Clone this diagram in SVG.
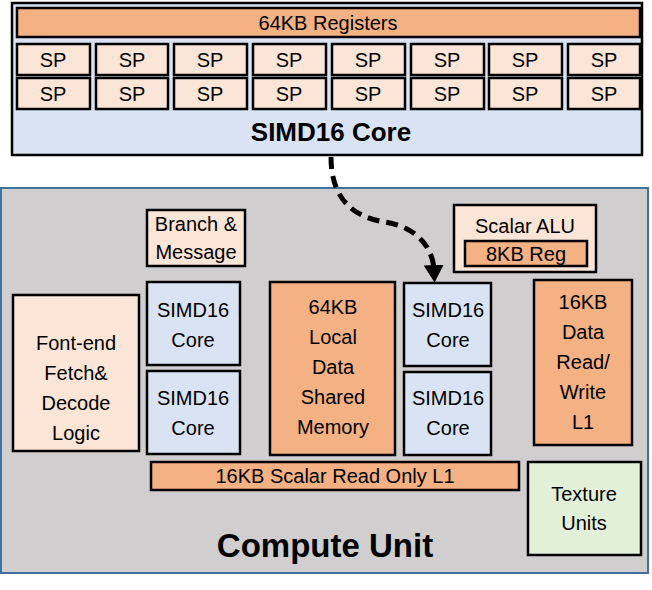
<svg xmlns="http://www.w3.org/2000/svg" width="652" height="590" viewBox="0 0 652 590">
<style>
text{font-family:"Liberation Sans","Noto Sans",sans-serif;font-size:20px;fill:#000;text-anchor:middle}
.b{stroke:#000;stroke-width:2.5}
.o{fill:#f4b183}.p{fill:#fbe5d6}.bl{fill:#dae3f3}.g{fill:#e2f0d9}
.bold{font-weight:bold;font-size:26px}
</style>
<defs><marker id="ah" markerWidth="4" markerHeight="4" refX="1" refY="2" orient="auto" markerUnits="strokeWidth"><path d="M0,0 L3.5,2 L0,4 Z" fill="#000"/></marker></defs>
<g id="simd-top">
<rect class="b bl" x="12" y="3" width="630" height="152"/>
<rect class="b o" x="17" y="8" width="623" height="29"/><text x="328" y="30">64KB Registers</text>
<g id="sps">
<rect class="b p" x="17" y="44" width="73" height="31"/><text x="53" y="67">SP</text>
<rect class="b p" x="96" y="44" width="72" height="31"/><text x="132" y="67">SP</text>
<rect class="b p" x="174" y="44" width="73" height="31"/><text x="210" y="67">SP</text>
<rect class="b p" x="253" y="44" width="73" height="31"/><text x="289" y="67">SP</text>
<rect class="b p" x="332" y="44" width="73" height="31"/><text x="368" y="67">SP</text>
<rect class="b p" x="411" y="44" width="73" height="31"/><text x="447" y="67">SP</text>
<rect class="b p" x="489" y="44" width="73" height="31"/><text x="525" y="67">SP</text>
<rect class="b p" x="568" y="44" width="72" height="31"/><text x="604" y="67">SP</text>
<rect class="b p" x="17" y="78" width="73" height="31"/><text x="53" y="101">SP</text>
<rect class="b p" x="96" y="78" width="72" height="31"/><text x="132" y="101">SP</text>
<rect class="b p" x="174" y="78" width="73" height="31"/><text x="210" y="101">SP</text>
<rect class="b p" x="253" y="78" width="73" height="31"/><text x="289" y="101">SP</text>
<rect class="b p" x="332" y="78" width="73" height="31"/><text x="368" y="101">SP</text>
<rect class="b p" x="411" y="78" width="73" height="31"/><text x="447" y="101">SP</text>
<rect class="b p" x="489" y="78" width="73" height="31"/><text x="525" y="101">SP</text>
<rect class="b p" x="568" y="78" width="72" height="31"/><text x="604" y="101">SP</text>
</g>
<text class="bold" x="331" y="141">SIMD16 Core</text>
</g>
<g id="cu">
<rect x="1" y="188" width="647" height="385" fill="#d0cece" stroke="#41719c" stroke-width="2"/>
<text x="325" y="557" style="font-weight:bold;font-size:33px">Compute Unit</text>
</g>
<g id="branch"><rect class="b p" x="147" y="210" width="98" height="56"/><text x="196" y="231">Branch &amp;</text><text x="196" y="259">Message</text></g>
<g id="scalar"><rect class="b p" x="454" y="205" width="142" height="67"/><text x="525" y="233">Scalar ALU</text>
<rect class="b o" x="465" y="241" width="122" height="25"/><text x="526" y="261">8KB Reg</text></g>
<g id="frontend"><rect class="b p" x="13" y="295" width="126" height="156"/><text x="76" y="350">Font-end</text><text x="76" y="380">Fetch&amp;</text><text x="76" y="410">Decode</text><text x="76" y="440">Logic</text></g>
<g id="s1"><rect class="b bl" x="147" y="282" width="93" height="83"/><text x="193" y="317">SIMD16</text><text x="193" y="347">Core</text></g>
<g id="s2"><rect class="b bl" x="147" y="371" width="93" height="83"/><text x="193" y="405">SIMD16</text><text x="193" y="435">Core</text></g>
<g id="lds"><rect class="b o" x="270" y="282" width="125" height="173"/><text x="333" y="314">64KB</text><text x="333" y="344">Local</text><text x="333" y="374">Data</text><text x="333" y="404">Shared</text><text x="333" y="434">Memory</text></g>
<g id="s3"><rect class="b bl" x="404" y="283" width="87" height="83"/><text x="448" y="317">SIMD16</text><text x="448" y="347">Core</text></g>
<g id="s4"><rect class="b bl" x="404" y="372" width="87" height="83"/><text x="448" y="405">SIMD16</text><text x="448" y="435">Core</text></g>
<g id="l1"><rect class="b o" x="534" y="280" width="98" height="165"/><text x="583" y="309">16KB</text><text x="583" y="339">Data</text><text x="583" y="369">Read/</text><text x="583" y="399">Write</text><text x="583" y="429">L1</text></g>
<g id="sro"><rect class="b o" x="151" y="462" width="368" height="28"/><text x="335" y="483">16KB Scalar Read Only L1</text></g>
<g id="tex"><rect class="b g" x="528" y="462" width="113" height="93"/><text x="584" y="501">Texture</text><text x="584" y="530">Units</text></g>
<g id="connectors">
<path d="M331,157 C331,205 360,218 385,222 C420,228 433,250 434,270" fill="none" stroke="#000" stroke-width="5" stroke-dasharray="12,7" marker-end="url(#ah)"/>
</g>
</svg>
